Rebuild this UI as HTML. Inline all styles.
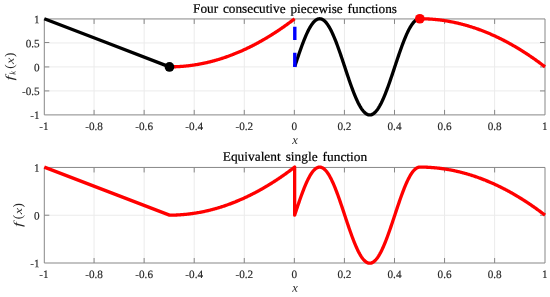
<!DOCTYPE html><html><head><meta charset="utf-8"><title>Four consecutive piecewise functions</title><style>html,body{margin:0;padding:0;background:#fff;width:550px;height:297px;overflow:hidden}svg{display:block}text{font-family:"Liberation Serif",serif;fill:#262626}.tt{fill:#000;stroke:#000;stroke-width:0.2px}.it{font-style:italic}.tl{stroke:#262626;stroke-width:0.15px}</style></head><body>
<svg width="550" height="297" viewBox="0 0 550 297">
<rect width="550" height="297" fill="#fff"/>
<path d="M94.07 18.95V114.90M144.14 18.95V114.90M194.21 18.95V114.90M244.28 18.95V114.90M294.35 18.95V114.90M344.42 18.95V114.90M394.49 18.95V114.90M444.56 18.95V114.90M494.63 18.95V114.90M44.30 90.91H545.00M44.30 66.93H545.00M44.30 42.94H545.00" stroke="#ebebeb" stroke-width="1" fill="none"/>
<path d="M94.07 114.90v-5M94.07 18.95v5M144.14 114.90v-5M144.14 18.95v5M194.21 114.90v-5M194.21 18.95v5M244.28 114.90v-5M244.28 18.95v5M294.35 114.90v-5M294.35 18.95v5M344.42 114.90v-5M344.42 18.95v5M394.49 114.90v-5M394.49 18.95v5M444.56 114.90v-5M444.56 18.95v5M494.63 114.90v-5M494.63 18.95v5M44.30 90.91h5M545.00 90.91h-5M44.30 66.93h5M545.00 66.93h-5M44.30 42.49h5M545.00 42.49h-5M44.30 18.95H545.00V114.90H44.30Z" stroke="#878787" stroke-width="1" fill="none"/>
<g fill="none" stroke-width="3.3" stroke-linejoin="round">
<path d="M44.30 18.75 L106.89 42.80 L169.47 66.85" stroke="#000"/>
<path d="M169.47 66.85 L170.10 66.85 L170.73 66.85 L171.35 66.84 L171.98 66.83 L172.60 66.82 L173.23 66.81 L173.86 66.79 L174.48 66.77 L175.11 66.75 L175.73 66.73 L176.36 66.70 L176.99 66.68 L177.61 66.65 L178.24 66.61 L178.86 66.58 L179.49 66.54 L180.11 66.50 L180.74 66.46 L181.37 66.42 L181.99 66.37 L182.62 66.32 L183.24 66.27 L183.87 66.21 L184.50 66.16 L185.12 66.10 L185.75 66.04 L186.37 65.97 L187.00 65.91 L187.63 65.84 L188.25 65.77 L188.88 65.69 L189.50 65.62 L190.13 65.54 L190.75 65.46 L191.38 65.38 L192.01 65.29 L192.63 65.20 L193.26 65.11 L193.88 65.02 L194.51 64.93 L195.14 64.83 L195.76 64.73 L196.39 64.63 L197.01 64.52 L197.64 64.41 L198.27 64.31 L198.89 64.19 L199.52 64.08 L200.14 63.96 L200.77 63.84 L201.39 63.72 L202.02 63.60 L202.65 63.47 L203.27 63.34 L203.90 63.21 L204.52 63.08 L205.15 62.94 L205.78 62.80 L206.40 62.66 L207.03 62.52 L207.65 62.38 L208.28 62.23 L208.91 62.08 L209.53 61.92 L210.16 61.77 L210.78 61.61 L211.41 61.45 L212.03 61.29 L212.66 61.12 L213.29 60.96 L213.91 60.79 L214.54 60.62 L215.16 60.44 L215.79 60.27 L216.42 60.09 L217.04 59.90 L217.67 59.72 L218.29 59.53 L218.92 59.35 L219.54 59.15 L220.17 58.96 L220.80 58.76 L221.42 58.57 L222.05 58.37 L222.67 58.16 L223.30 57.96 L223.93 57.75 L224.55 57.54 L225.18 57.32 L225.80 57.11 L226.43 56.89 L227.06 56.67 L227.68 56.45 L228.31 56.22 L228.93 56.00 L229.56 55.77 L230.18 55.54 L230.81 55.30 L231.44 55.06 L232.06 54.83 L232.69 54.58 L233.31 54.34 L233.94 54.09 L234.57 53.84 L235.19 53.59 L235.82 53.34 L236.44 53.08 L237.07 52.82 L237.70 52.56 L238.32 52.30 L238.95 52.03 L239.57 51.77 L240.20 51.50 L240.82 51.22 L241.45 50.95 L242.08 50.67 L242.70 50.39 L243.33 50.11 L243.95 49.82 L244.58 49.53 L245.21 49.24 L245.83 48.95 L246.46 48.66 L247.08 48.36 L247.71 48.06 L248.34 47.76 L248.96 47.45 L249.59 47.15 L250.21 46.84 L250.84 46.53 L251.46 46.21 L252.09 45.90 L252.72 45.58 L253.34 45.26 L253.97 44.93 L254.59 44.61 L255.22 44.28 L255.85 43.95 L256.47 43.62 L257.10 43.28 L257.72 42.94 L258.35 42.60 L258.98 42.26 L259.60 41.91 L260.23 41.57 L260.85 41.22 L261.48 40.87 L262.10 40.51 L262.73 40.15 L263.36 39.79 L263.98 39.43 L264.61 39.07 L265.23 38.70 L265.86 38.33 L266.49 37.96 L267.11 37.59 L267.74 37.21 L268.36 36.83 L268.99 36.45 L269.62 36.07 L270.24 35.68 L270.87 35.29 L271.49 34.90 L272.12 34.51 L272.74 34.11 L273.37 33.71 L274.00 33.31 L274.62 32.91 L275.25 32.51 L275.87 32.10 L276.50 31.69 L277.13 31.28 L277.75 30.86 L278.38 30.44 L279.00 30.02 L279.63 29.60 L280.25 29.18 L280.88 28.75 L281.51 28.32 L282.13 27.89 L282.76 27.45 L283.38 27.02 L284.01 26.58 L284.64 26.14 L285.26 25.69 L285.89 25.25 L286.51 24.80 L287.14 24.35 L287.77 23.90 L288.39 23.44 L289.02 22.98 L289.64 22.52 L290.27 22.06 L290.89 21.59 L291.52 21.12 L292.15 20.65 L292.77 20.18 L293.40 19.71 L294.02 19.23 L294.65 18.75" stroke="#f00"/>
<path d="M294.65 66.85 L295.28 64.96 L295.90 63.08 L296.53 61.20 L297.15 59.33 L297.78 57.47 L298.41 55.62 L299.03 53.79 L299.66 51.99 L300.28 50.20 L300.91 48.44 L301.53 46.71 L302.16 45.01 L302.79 43.35 L303.41 41.72 L304.04 40.13 L304.66 38.58 L305.29 37.07 L305.92 35.61 L306.54 34.20 L307.17 32.84 L307.79 31.53 L308.42 30.27 L309.05 29.08 L309.67 27.94 L310.30 26.86 L310.92 25.84 L311.55 24.88 L312.17 23.99 L312.80 23.17 L313.43 22.41 L314.05 21.72 L314.68 21.10 L315.30 20.56 L315.93 20.08 L316.56 19.67 L317.18 19.34 L317.81 19.08 L318.43 18.90 L319.06 18.79 L319.69 18.75 L320.31 18.79 L320.94 18.90 L321.56 19.08 L322.19 19.34 L322.81 19.67 L323.44 20.08 L324.07 20.56 L324.69 21.10 L325.32 21.72 L325.94 22.41 L326.57 23.17 L327.20 23.99 L327.82 24.88 L328.45 25.84 L329.07 26.86 L329.70 27.94 L330.32 29.08 L330.95 30.27 L331.58 31.53 L332.20 32.84 L332.83 34.20 L333.45 35.61 L334.08 37.07 L334.71 38.58 L335.33 40.13 L335.96 41.72 L336.58 43.35 L337.21 45.01 L337.84 46.71 L338.46 48.44 L339.09 50.20 L339.71 51.99 L340.34 53.79 L340.96 55.62 L341.59 57.47 L342.22 59.33 L342.84 61.20 L343.47 63.08 L344.09 64.96 L344.72 66.85 L345.35 68.74 L345.97 70.62 L346.60 72.50 L347.22 74.37 L347.85 76.23 L348.48 78.08 L349.10 79.91 L349.73 81.71 L350.35 83.50 L350.98 85.26 L351.60 86.99 L352.23 88.69 L352.86 90.35 L353.48 91.98 L354.11 93.57 L354.73 95.12 L355.36 96.63 L355.99 98.09 L356.61 99.50 L357.24 100.86 L357.86 102.17 L358.49 103.43 L359.12 104.62 L359.74 105.76 L360.37 106.84 L360.99 107.86 L361.62 108.82 L362.24 109.71 L362.87 110.53 L363.50 111.29 L364.12 111.98 L364.75 112.60 L365.37 113.14 L366.00 113.62 L366.63 114.03 L367.25 114.36 L367.88 114.62 L368.50 114.80 L369.13 114.91 L369.75 114.95 L370.38 114.91 L371.01 114.80 L371.63 114.62 L372.26 114.36 L372.88 114.03 L373.51 113.62 L374.14 113.14 L374.76 112.60 L375.39 111.98 L376.01 111.29 L376.64 110.53 L377.27 109.71 L377.89 108.82 L378.52 107.86 L379.14 106.84 L379.77 105.76 L380.39 104.62 L381.02 103.43 L381.65 102.17 L382.27 100.86 L382.90 99.50 L383.52 98.09 L384.15 96.63 L384.78 95.12 L385.40 93.57 L386.03 91.98 L386.65 90.35 L387.28 88.69 L387.91 86.99 L388.53 85.26 L389.16 83.50 L389.78 81.71 L390.41 79.91 L391.03 78.08 L391.66 76.23 L392.29 74.37 L392.91 72.50 L393.54 70.62 L394.16 68.74 L394.79 66.85 L395.42 64.96 L396.04 63.08 L396.67 61.20 L397.29 59.33 L397.92 57.47 L398.55 55.62 L399.17 53.79 L399.80 51.99 L400.42 50.20 L401.05 48.44 L401.67 46.71 L402.30 45.01 L402.93 43.35 L403.55 41.72 L404.18 40.13 L404.80 38.58 L405.43 37.07 L406.06 35.61 L406.68 34.20 L407.31 32.84 L407.93 31.53 L408.56 30.27 L409.19 29.08 L409.81 27.94 L410.44 26.86 L411.06 25.84 L411.69 24.88 L412.31 23.99 L412.94 23.17 L413.57 22.41 L414.19 21.72 L414.82 21.10 L415.44 20.56 L416.07 20.08 L416.70 19.67 L417.32 19.34 L417.95 19.08 L418.57 18.90 L419.20 18.79 L419.82 18.75" stroke="#000"/>
<path d="M419.82 18.75 L420.45 18.75 L421.08 18.75 L421.70 18.76 L422.33 18.77 L422.95 18.78 L423.58 18.79 L424.21 18.81 L424.83 18.83 L425.46 18.85 L426.08 18.87 L426.71 18.90 L427.34 18.92 L427.96 18.95 L428.59 18.99 L429.21 19.02 L429.84 19.06 L430.46 19.10 L431.09 19.14 L431.72 19.18 L432.34 19.23 L432.97 19.28 L433.59 19.33 L434.22 19.39 L434.85 19.44 L435.47 19.50 L436.10 19.56 L436.72 19.63 L437.35 19.69 L437.98 19.76 L438.60 19.83 L439.23 19.91 L439.85 19.98 L440.48 20.06 L441.10 20.14 L441.73 20.22 L442.36 20.31 L442.98 20.40 L443.61 20.49 L444.23 20.58 L444.86 20.67 L445.49 20.77 L446.11 20.87 L446.74 20.97 L447.36 21.08 L447.99 21.19 L448.62 21.29 L449.24 21.41 L449.87 21.52 L450.49 21.64 L451.12 21.76 L451.74 21.88 L452.37 22.00 L453.00 22.13 L453.62 22.26 L454.25 22.39 L454.87 22.52 L455.50 22.66 L456.13 22.80 L456.75 22.94 L457.38 23.08 L458.00 23.22 L458.63 23.37 L459.26 23.52 L459.88 23.68 L460.51 23.83 L461.13 23.99 L461.76 24.15 L462.38 24.31 L463.01 24.48 L463.64 24.64 L464.26 24.81 L464.89 24.98 L465.51 25.16 L466.14 25.33 L466.77 25.51 L467.39 25.70 L468.02 25.88 L468.64 26.07 L469.27 26.25 L469.89 26.45 L470.52 26.64 L471.15 26.84 L471.77 27.03 L472.40 27.23 L473.02 27.44 L473.65 27.64 L474.28 27.85 L474.90 28.06 L475.53 28.28 L476.15 28.49 L476.78 28.71 L477.41 28.93 L478.03 29.15 L478.66 29.38 L479.28 29.60 L479.91 29.83 L480.53 30.06 L481.16 30.30 L481.79 30.54 L482.41 30.78 L483.04 31.02 L483.66 31.26 L484.29 31.51 L484.92 31.76 L485.54 32.01 L486.17 32.26 L486.79 32.52 L487.42 32.78 L488.05 33.04 L488.67 33.30 L489.30 33.57 L489.92 33.83 L490.55 34.10 L491.17 34.38 L491.80 34.65 L492.43 34.93 L493.05 35.21 L493.68 35.49 L494.30 35.78 L494.93 36.07 L495.56 36.36 L496.18 36.65 L496.81 36.94 L497.43 37.24 L498.06 37.54 L498.69 37.84 L499.31 38.15 L499.94 38.45 L500.56 38.76 L501.19 39.07 L501.81 39.39 L502.44 39.70 L503.07 40.02 L503.69 40.34 L504.32 40.67 L504.94 40.99 L505.57 41.32 L506.20 41.65 L506.82 41.98 L507.45 42.32 L508.07 42.66 L508.70 43.00 L509.33 43.34 L509.95 43.69 L510.58 44.03 L511.20 44.38 L511.83 44.73 L512.45 45.09 L513.08 45.45 L513.71 45.81 L514.33 46.17 L514.96 46.53 L515.58 46.90 L516.21 47.27 L516.84 47.64 L517.46 48.01 L518.09 48.39 L518.71 48.77 L519.34 49.15 L519.96 49.53 L520.59 49.92 L521.22 50.31 L521.84 50.70 L522.47 51.09 L523.09 51.49 L523.72 51.89 L524.35 52.29 L524.97 52.69 L525.60 53.09 L526.22 53.50 L526.85 53.91 L527.48 54.32 L528.10 54.74 L528.73 55.16 L529.35 55.58 L529.98 56.00 L530.60 56.42 L531.23 56.85 L531.86 57.28 L532.48 57.71 L533.11 58.15 L533.73 58.58 L534.36 59.02 L534.99 59.46 L535.61 59.91 L536.24 60.35 L536.86 60.80 L537.49 61.25 L538.12 61.70 L538.74 62.16 L539.37 62.62 L539.99 63.08 L540.62 63.54 L541.24 64.01 L541.87 64.48 L542.50 64.95 L543.12 65.42 L543.75 65.89 L544.37 66.37 L545.00 66.85" stroke="#f00"/>
<path d="M294.80 66.9V52.8M294.80 39.9V26.7" stroke="#00f" stroke-width="3.4"/>
</g>
<circle cx="169.47" cy="66.95" r="4.85" fill="#000"/>
<circle cx="419.82" cy="18.75" r="4.85" fill="#f00"/>
<path d="M94.07 167.45V263.00M144.14 167.45V263.00M194.21 167.45V263.00M244.28 167.45V263.00M294.35 167.45V263.00M344.42 167.45V263.00M394.49 167.45V263.00M444.56 167.45V263.00M494.63 167.45V263.00M44.30 215.22H545.00" stroke="#ebebeb" stroke-width="1" fill="none"/>
<path d="M94.07 263.00v-5M94.07 167.45v5M144.14 263.00v-5M144.14 167.45v5M194.21 263.00v-5M194.21 167.45v5M244.28 263.00v-5M244.28 167.45v5M294.35 263.00v-5M294.35 167.45v5M344.42 263.00v-5M344.42 167.45v5M394.49 263.00v-5M394.49 167.45v5M444.56 263.00v-5M444.56 167.45v5M494.63 263.00v-5M494.63 167.45v5M44.30 215.22h5M545.00 215.22h-5M44.30 167.45H545.00V263.00H44.30Z" stroke="#878787" stroke-width="1" fill="none"/>
<path d="M44.30 167.10 L106.89 191.12 L169.47 215.15 L169.47 215.15 L170.10 215.15 L170.73 215.15 L171.35 215.14 L171.98 215.13 L172.60 215.12 L173.23 215.11 L173.86 215.09 L174.48 215.07 L175.11 215.05 L175.73 215.03 L176.36 215.00 L176.99 214.98 L177.61 214.95 L178.24 214.91 L178.86 214.88 L179.49 214.84 L180.11 214.80 L180.74 214.76 L181.37 214.72 L181.99 214.67 L182.62 214.62 L183.24 214.57 L183.87 214.51 L184.50 214.46 L185.12 214.40 L185.75 214.34 L186.37 214.27 L187.00 214.21 L187.63 214.14 L188.25 214.07 L188.88 214.00 L189.50 213.92 L190.13 213.84 L190.75 213.76 L191.38 213.68 L192.01 213.59 L192.63 213.51 L193.26 213.42 L193.88 213.32 L194.51 213.23 L195.14 213.13 L195.76 213.03 L196.39 212.93 L197.01 212.82 L197.64 212.72 L198.27 212.61 L198.89 212.50 L199.52 212.38 L200.14 212.27 L200.77 212.15 L201.39 212.03 L202.02 211.90 L202.65 211.78 L203.27 211.65 L203.90 211.52 L204.52 211.38 L205.15 211.25 L205.78 211.11 L206.40 210.97 L207.03 210.83 L207.65 210.68 L208.28 210.53 L208.91 210.38 L209.53 210.23 L210.16 210.07 L210.78 209.92 L211.41 209.76 L212.03 209.60 L212.66 209.43 L213.29 209.26 L213.91 209.09 L214.54 208.92 L215.16 208.75 L215.79 208.57 L216.42 208.39 L217.04 208.21 L217.67 208.03 L218.29 207.84 L218.92 207.65 L219.54 207.46 L220.17 207.27 L220.80 207.07 L221.42 206.87 L222.05 206.67 L222.67 206.47 L223.30 206.27 L223.93 206.06 L224.55 205.85 L225.18 205.63 L225.80 205.42 L226.43 205.20 L227.06 204.98 L227.68 204.76 L228.31 204.54 L228.93 204.31 L229.56 204.08 L230.18 203.85 L230.81 203.61 L231.44 203.38 L232.06 203.14 L232.69 202.90 L233.31 202.65 L233.94 202.41 L234.57 202.16 L235.19 201.91 L235.82 201.65 L236.44 201.40 L237.07 201.14 L237.70 200.88 L238.32 200.61 L238.95 200.35 L239.57 200.08 L240.20 199.81 L240.82 199.54 L241.45 199.26 L242.08 198.99 L242.70 198.71 L243.33 198.42 L243.95 198.14 L244.58 197.85 L245.21 197.56 L245.83 197.27 L246.46 196.98 L247.08 196.68 L247.71 196.38 L248.34 196.08 L248.96 195.78 L249.59 195.47 L250.21 195.16 L250.84 194.85 L251.46 194.54 L252.09 194.22 L252.72 193.90 L253.34 193.58 L253.97 193.26 L254.59 192.93 L255.22 192.60 L255.85 192.27 L256.47 191.94 L257.10 191.61 L257.72 191.27 L258.35 190.93 L258.98 190.59 L259.60 190.24 L260.23 189.89 L260.85 189.54 L261.48 189.19 L262.10 188.84 L262.73 188.48 L263.36 188.12 L263.98 187.76 L264.61 187.40 L265.23 187.03 L265.86 186.66 L266.49 186.29 L267.11 185.92 L267.74 185.54 L268.36 185.16 L268.99 184.78 L269.62 184.40 L270.24 184.01 L270.87 183.62 L271.49 183.23 L272.12 182.84 L272.74 182.45 L273.37 182.05 L274.00 181.65 L274.62 181.25 L275.25 180.84 L275.87 180.43 L276.50 180.02 L277.13 179.61 L277.75 179.20 L278.38 178.78 L279.00 178.36 L279.63 177.94 L280.25 177.52 L280.88 177.09 L281.51 176.66 L282.13 176.23 L282.76 175.80 L283.38 175.36 L284.01 174.92 L284.64 174.48 L285.26 174.04 L285.89 173.59 L286.51 173.14 L287.14 172.69 L287.77 172.24 L288.39 171.78 L289.02 171.33 L289.64 170.87 L290.27 170.40 L290.89 169.94 L291.52 169.47 L292.15 169.00 L292.77 168.53 L293.40 168.06 L294.02 167.58 L294.65 167.10 L294.65 215.15 L295.28 213.26 L295.90 211.38 L296.53 209.50 L297.15 207.63 L297.78 205.78 L298.41 203.93 L299.03 202.11 L299.66 200.30 L300.28 198.52 L300.91 196.76 L301.53 195.03 L302.16 193.34 L302.79 191.67 L303.41 190.04 L304.04 188.45 L304.66 186.91 L305.29 185.40 L305.92 183.94 L306.54 182.53 L307.17 181.17 L307.79 179.87 L308.42 178.61 L309.05 177.42 L309.67 176.28 L310.30 175.20 L310.92 174.18 L311.55 173.23 L312.17 172.34 L312.80 171.51 L313.43 170.76 L314.05 170.07 L314.68 169.45 L315.30 168.90 L315.93 168.43 L316.56 168.02 L317.18 167.69 L317.81 167.43 L318.43 167.25 L319.06 167.14 L319.69 167.10 L320.31 167.14 L320.94 167.25 L321.56 167.43 L322.19 167.69 L322.81 168.02 L323.44 168.43 L324.07 168.90 L324.69 169.45 L325.32 170.07 L325.94 170.76 L326.57 171.51 L327.20 172.34 L327.82 173.23 L328.45 174.18 L329.07 175.20 L329.70 176.28 L330.32 177.42 L330.95 178.61 L331.58 179.87 L332.20 181.17 L332.83 182.53 L333.45 183.94 L334.08 185.40 L334.71 186.91 L335.33 188.45 L335.96 190.04 L336.58 191.67 L337.21 193.34 L337.84 195.03 L338.46 196.76 L339.09 198.52 L339.71 200.30 L340.34 202.11 L340.96 203.93 L341.59 205.78 L342.22 207.63 L342.84 209.50 L343.47 211.38 L344.09 213.26 L344.72 215.15 L345.35 217.04 L345.97 218.92 L346.60 220.80 L347.22 222.67 L347.85 224.52 L348.48 226.37 L349.10 228.19 L349.73 230.00 L350.35 231.78 L350.98 233.54 L351.60 235.27 L352.23 236.96 L352.86 238.63 L353.48 240.26 L354.11 241.85 L354.73 243.39 L355.36 244.90 L355.99 246.36 L356.61 247.77 L357.24 249.13 L357.86 250.43 L358.49 251.69 L359.12 252.88 L359.74 254.02 L360.37 255.10 L360.99 256.12 L361.62 257.07 L362.24 257.96 L362.87 258.79 L363.50 259.54 L364.12 260.23 L364.75 260.85 L365.37 261.40 L366.00 261.87 L366.63 262.28 L367.25 262.61 L367.88 262.87 L368.50 263.05 L369.13 263.16 L369.75 263.20 L370.38 263.16 L371.01 263.05 L371.63 262.87 L372.26 262.61 L372.88 262.28 L373.51 261.87 L374.14 261.40 L374.76 260.85 L375.39 260.23 L376.01 259.54 L376.64 258.79 L377.27 257.96 L377.89 257.07 L378.52 256.12 L379.14 255.10 L379.77 254.02 L380.39 252.88 L381.02 251.69 L381.65 250.43 L382.27 249.13 L382.90 247.77 L383.52 246.36 L384.15 244.90 L384.78 243.39 L385.40 241.85 L386.03 240.26 L386.65 238.63 L387.28 236.96 L387.91 235.27 L388.53 233.54 L389.16 231.78 L389.78 230.00 L390.41 228.19 L391.03 226.37 L391.66 224.52 L392.29 222.67 L392.91 220.80 L393.54 218.92 L394.16 217.04 L394.79 215.15 L395.42 213.26 L396.04 211.38 L396.67 209.50 L397.29 207.63 L397.92 205.78 L398.55 203.93 L399.17 202.11 L399.80 200.30 L400.42 198.52 L401.05 196.76 L401.67 195.03 L402.30 193.34 L402.93 191.67 L403.55 190.04 L404.18 188.45 L404.80 186.91 L405.43 185.40 L406.06 183.94 L406.68 182.53 L407.31 181.17 L407.93 179.87 L408.56 178.61 L409.19 177.42 L409.81 176.28 L410.44 175.20 L411.06 174.18 L411.69 173.23 L412.31 172.34 L412.94 171.51 L413.57 170.76 L414.19 170.07 L414.82 169.45 L415.44 168.90 L416.07 168.43 L416.70 168.02 L417.32 167.69 L417.95 167.43 L418.57 167.25 L419.20 167.14 L419.82 167.10 L419.82 167.10 L420.45 167.10 L421.08 167.10 L421.70 167.11 L422.33 167.12 L422.95 167.13 L423.58 167.14 L424.21 167.16 L424.83 167.18 L425.46 167.20 L426.08 167.22 L426.71 167.25 L427.34 167.27 L427.96 167.30 L428.59 167.34 L429.21 167.37 L429.84 167.41 L430.46 167.45 L431.09 167.49 L431.72 167.53 L432.34 167.58 L432.97 167.63 L433.59 167.68 L434.22 167.74 L434.85 167.79 L435.47 167.85 L436.10 167.91 L436.72 167.98 L437.35 168.04 L437.98 168.11 L438.60 168.18 L439.23 168.25 L439.85 168.33 L440.48 168.41 L441.10 168.49 L441.73 168.57 L442.36 168.66 L442.98 168.74 L443.61 168.83 L444.23 168.93 L444.86 169.02 L445.49 169.12 L446.11 169.22 L446.74 169.32 L447.36 169.43 L447.99 169.53 L448.62 169.64 L449.24 169.75 L449.87 169.87 L450.49 169.98 L451.12 170.10 L451.74 170.22 L452.37 170.35 L453.00 170.47 L453.62 170.60 L454.25 170.73 L454.87 170.87 L455.50 171.00 L456.13 171.14 L456.75 171.28 L457.38 171.42 L458.00 171.57 L458.63 171.72 L459.26 171.87 L459.88 172.02 L460.51 172.18 L461.13 172.33 L461.76 172.49 L462.38 172.65 L463.01 172.82 L463.64 172.99 L464.26 173.16 L464.89 173.33 L465.51 173.50 L466.14 173.68 L466.77 173.86 L467.39 174.04 L468.02 174.22 L468.64 174.41 L469.27 174.60 L469.89 174.79 L470.52 174.98 L471.15 175.18 L471.77 175.38 L472.40 175.58 L473.02 175.78 L473.65 175.98 L474.28 176.19 L474.90 176.40 L475.53 176.62 L476.15 176.83 L476.78 177.05 L477.41 177.27 L478.03 177.49 L478.66 177.71 L479.28 177.94 L479.91 178.17 L480.53 178.40 L481.16 178.64 L481.79 178.87 L482.41 179.11 L483.04 179.35 L483.66 179.60 L484.29 179.84 L484.92 180.09 L485.54 180.34 L486.17 180.60 L486.79 180.85 L487.42 181.11 L488.05 181.37 L488.67 181.64 L489.30 181.90 L489.92 182.17 L490.55 182.44 L491.17 182.71 L491.80 182.99 L492.43 183.26 L493.05 183.54 L493.68 183.83 L494.30 184.11 L494.93 184.40 L495.56 184.69 L496.18 184.98 L496.81 185.27 L497.43 185.57 L498.06 185.87 L498.69 186.17 L499.31 186.47 L499.94 186.78 L500.56 187.09 L501.19 187.40 L501.81 187.71 L502.44 188.03 L503.07 188.35 L503.69 188.67 L504.32 188.99 L504.94 189.32 L505.57 189.65 L506.20 189.98 L506.82 190.31 L507.45 190.64 L508.07 190.98 L508.70 191.32 L509.33 191.66 L509.95 192.01 L510.58 192.36 L511.20 192.71 L511.83 193.06 L512.45 193.41 L513.08 193.77 L513.71 194.13 L514.33 194.49 L514.96 194.85 L515.58 195.22 L516.21 195.59 L516.84 195.96 L517.46 196.33 L518.09 196.71 L518.71 197.09 L519.34 197.47 L519.96 197.85 L520.59 198.24 L521.22 198.63 L521.84 199.02 L522.47 199.41 L523.09 199.80 L523.72 200.20 L524.35 200.60 L524.97 201.00 L525.60 201.41 L526.22 201.82 L526.85 202.23 L527.48 202.64 L528.10 203.05 L528.73 203.47 L529.35 203.89 L529.98 204.31 L530.60 204.73 L531.23 205.16 L531.86 205.59 L532.48 206.02 L533.11 206.45 L533.73 206.89 L534.36 207.33 L534.99 207.77 L535.61 208.21 L536.24 208.66 L536.86 209.11 L537.49 209.56 L538.12 210.01 L538.74 210.47 L539.37 210.92 L539.99 211.38 L540.62 211.85 L541.24 212.31 L541.87 212.78 L542.50 213.25 L543.12 213.72 L543.75 214.19 L544.37 214.67 L545.00 215.15" stroke="#f00" fill="none" stroke-width="3.3" stroke-linejoin="round"/>
<text transform="translate(44.00,129.90) skewY(0.05) scale(1.0,1)" class="tl" font-size="11.2" text-anchor="middle">-1</text>
<text transform="translate(94.07,129.90) skewY(0.05) scale(1.0,1)" class="tl" font-size="11.2" text-anchor="middle">-0.8</text>
<text transform="translate(144.14,129.90) skewY(0.05) scale(1.0,1)" class="tl" font-size="11.2" text-anchor="middle">-0.6</text>
<text transform="translate(194.21,129.90) skewY(0.05) scale(1.0,1)" class="tl" font-size="11.2" text-anchor="middle">-0.4</text>
<text transform="translate(244.28,129.90) skewY(0.05) scale(1.0,1)" class="tl" font-size="11.2" text-anchor="middle">-0.2</text>
<text transform="translate(294.35,129.90) skewY(0.05) scale(1.0,1)" class="tl" font-size="11.2" text-anchor="middle">0</text>
<text transform="translate(344.42,129.90) skewY(0.05) scale(1.0,1)" class="tl" font-size="11.2" text-anchor="middle">0.2</text>
<text transform="translate(394.49,129.90) skewY(0.05) scale(1.0,1)" class="tl" font-size="11.2" text-anchor="middle">0.4</text>
<text transform="translate(444.56,129.90) skewY(0.05) scale(1.0,1)" class="tl" font-size="11.2" text-anchor="middle">0.6</text>
<text transform="translate(494.63,129.90) skewY(0.05) scale(1.0,1)" class="tl" font-size="11.2" text-anchor="middle">0.8</text>
<text transform="translate(544.70,129.90) skewY(0.05) scale(1.0,1)" class="tl" font-size="11.2" text-anchor="middle">1</text>
<text transform="translate(44.00,278.00) skewY(0.05) scale(1.0,1)" class="tl" font-size="11.2" text-anchor="middle">-1</text>
<text transform="translate(94.07,278.00) skewY(0.05) scale(1.0,1)" class="tl" font-size="11.2" text-anchor="middle">-0.8</text>
<text transform="translate(144.14,278.00) skewY(0.05) scale(1.0,1)" class="tl" font-size="11.2" text-anchor="middle">-0.6</text>
<text transform="translate(194.21,278.00) skewY(0.05) scale(1.0,1)" class="tl" font-size="11.2" text-anchor="middle">-0.4</text>
<text transform="translate(244.28,278.00) skewY(0.05) scale(1.0,1)" class="tl" font-size="11.2" text-anchor="middle">-0.2</text>
<text transform="translate(294.35,278.00) skewY(0.05) scale(1.0,1)" class="tl" font-size="11.2" text-anchor="middle">0</text>
<text transform="translate(344.42,278.00) skewY(0.05) scale(1.0,1)" class="tl" font-size="11.2" text-anchor="middle">0.2</text>
<text transform="translate(394.49,278.00) skewY(0.05) scale(1.0,1)" class="tl" font-size="11.2" text-anchor="middle">0.4</text>
<text transform="translate(444.56,278.00) skewY(0.05) scale(1.0,1)" class="tl" font-size="11.2" text-anchor="middle">0.6</text>
<text transform="translate(494.63,278.00) skewY(0.05) scale(1.0,1)" class="tl" font-size="11.2" text-anchor="middle">0.8</text>
<text transform="translate(544.70,278.00) skewY(0.05) scale(1.0,1)" class="tl" font-size="11.2" text-anchor="middle">1</text>
<text transform="translate(39.70,119.10) skewY(0.05) scale(1.0,1)" class="tl" font-size="11.2" text-anchor="end">-1</text>
<text transform="translate(39.70,95.11) skewY(0.05) scale(1.0,1)" class="tl" font-size="11.2" text-anchor="end">-0.5</text>
<text transform="translate(39.70,71.13) skewY(0.05) scale(1.0,1)" class="tl" font-size="11.2" text-anchor="end">0</text>
<text transform="translate(39.70,47.14) skewY(0.05) scale(1.0,1)" class="tl" font-size="11.2" text-anchor="end">0.5</text>
<text transform="translate(39.70,23.15) skewY(0.05) scale(1.0,1)" class="tl" font-size="11.2" text-anchor="end">1</text>
<text transform="translate(39.70,267.20) skewY(0.05) scale(1.0,1)" class="tl" font-size="11.2" text-anchor="end">-1</text>
<text transform="translate(39.70,219.42) skewY(0.05) scale(1.0,1)" class="tl" font-size="11.2" text-anchor="end">0</text>
<text transform="translate(39.70,171.65) skewY(0.05) scale(1.0,1)" class="tl" font-size="11.2" text-anchor="end">1</text>
<text class="tt" transform="translate(193,12.8) skewY(0.05)" font-size="13.0" word-spacing="1.5" textLength="204" lengthAdjust="spacingAndGlyphs">Four consecutive piecewise functions</text>
<text class="tt" transform="translate(222.7,160.8) skewY(0.05)" font-size="13.0" word-spacing="1.5" textLength="144.5" lengthAdjust="spacingAndGlyphs">Equivalent single function</text>
<text class="it" transform="translate(295.15,143.9) skewY(0.05)" font-size="12.5" text-anchor="middle">x</text>
<text class="it" transform="translate(295.15,291.7) skewY(0.05)" font-size="12.5" text-anchor="middle">x</text>
<g>
<text transform="translate(13.70,80.90) rotate(-90) skewY(0.05) scale(1.45,1)" x="0.27" y="0" font-size="12" class="it">f</text>
<text transform="translate(15.40,80.90) rotate(-90) skewY(0.05) scale(1.0,1)" x="6.23" y="0" font-size="8.5" class="it">k</text>
<text transform="translate(13.70,80.90) rotate(-90) skewY(0.05) scale(1.0,1)" x="12.06" y="0" font-size="13">(</text>
<text transform="translate(13.70,80.90) rotate(-90) skewY(0.05) scale(1.3,1)" x="13.05" y="0" font-size="11" class="it">x</text>
<text transform="translate(13.70,80.90) rotate(-90) skewY(0.05) scale(1.0,1)" x="23.96" y="0" font-size="13">)</text>
</g><g>
<text transform="translate(22.00,227.10) rotate(-90) skewY(0.05) scale(1.45,1)" x="-0.01" y="0" font-size="12" class="it">f</text>
<text transform="translate(22.00,227.10) rotate(-90) skewY(0.05) scale(1.0,1)" x="7.76" y="0" font-size="13">(</text>
<text transform="translate(22.00,227.10) rotate(-90) skewY(0.05) scale(1.3,1)" x="9.82" y="0" font-size="11" class="it">x</text>
<text transform="translate(22.00,227.10) rotate(-90) skewY(0.05) scale(1.0,1)" x="19.61" y="0" font-size="13">)</text>
</g>
</svg></body></html>
